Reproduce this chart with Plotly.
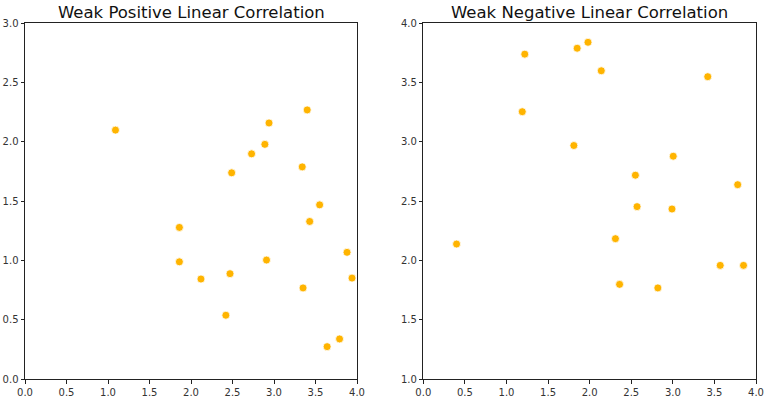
import plotly.graph_objects as go

pos_x = [1.09, 3.40, 2.94, 2.89, 2.73, 3.34, 2.49, 3.55, 3.43, 1.86,
         1.86, 3.88, 2.91, 2.47, 2.12, 3.94, 3.35, 2.42, 3.79, 3.64]
pos_y = [2.10, 2.27, 2.16, 1.98, 1.90, 1.79, 1.74, 1.47, 1.33, 1.28,
         0.99, 1.07, 1.005, 0.89, 0.845, 0.853, 0.77, 0.54, 0.34, 0.275]

neg_x = [1.22, 1.85, 1.98, 2.14, 3.42, 1.19, 1.81, 3.005, 2.55, 3.78,
         2.57, 2.99, 2.31, 0.40, 3.57, 3.85, 2.36, 2.82]
neg_y = [3.74, 3.79, 3.84, 3.60, 3.55, 3.255, 2.97, 2.88, 2.72, 2.64,
         2.455, 2.435, 2.185, 2.14, 1.96, 1.96, 1.80, 1.77]

titles = ["Weak Positive Linear Correlation", "Weak Negative Linear Correlation"]
ticks_x = [0, 0.5, 1.0, 1.5, 2.0, 2.5, 3.0, 3.5, 4.0]
ticks_y_left = [0, 0.5, 1.0, 1.5, 2.0, 2.5, 3.0]
ticks_y_right = [1.0, 1.5, 2.0, 2.5, 3.0, 3.5, 4.0]

color = "#FFB400"
fig = go.Figure()
fig.add_trace(go.Scatter(x=pos_x, y=pos_y, mode="markers", xaxis="x", yaxis="y",
                         marker=dict(color=color, size=8, line=dict(width=0.8, color="white"))))
fig.add_trace(go.Scatter(x=neg_x, y=neg_y, mode="markers", xaxis="x2", yaxis="y2",
                         marker=dict(color=color, size=8, line=dict(width=0.8, color="white"))))

ax_common = dict(showgrid=False, zeroline=False, showline=True, linecolor="#222", linewidth=1,
                 mirror=True, ticks="outside", ticklen=3.5, tickwidth=0.8, tickcolor="#222",
                 automargin=False,
                 tickfont=dict(family="DejaVu Sans", size=10, color="#333"))

W, H = 768, 399
ylo, yhi = 1 - 379.3 / H, 1 - 23.3 / H
fig.update_layout(
    width=W, height=H, margin=dict(l=0, r=0, t=0, b=0, autoexpand=False),
    plot_bgcolor="white", paper_bgcolor="white", showlegend=False,
    xaxis=dict(domain=[25 / W, 357 / W], range=[0, 4], tickvals=ticks_x,
               ticktext=[f"{v:.1f}" for v in ticks_x], anchor="y", **ax_common),
    yaxis=dict(domain=[ylo, yhi], range=[0, 3], tickvals=ticks_y_left,
               ticktext=[f"{v:.1f}" for v in ticks_y_left], anchor="x", **ax_common),
    xaxis2=dict(domain=[423.3 / W, 756 / W], range=[0, 4], tickvals=ticks_x,
                ticktext=[f"{v:.1f}" for v in ticks_x], anchor="y2", **ax_common),
    yaxis2=dict(domain=[ylo, yhi], range=[1, 4], tickvals=ticks_y_right,
                ticktext=[f"{v:.1f}" for v in ticks_y_right], anchor="x2", **ax_common),
    annotations=[
        dict(text=titles[0], xref="paper", yref="paper", x=(25 + 357) / 2 / W, y=1 - 13 / H,
             xanchor="center", yanchor="middle", showarrow=False,
             font=dict(family="DejaVu Sans", size=16.5, color="#111")),
        dict(text=titles[1], xref="paper", yref="paper", x=(423.3 + 756) / 2 / W, y=1 - 13 / H,
             xanchor="center", yanchor="middle", showarrow=False,
             font=dict(family="DejaVu Sans", size=16.5, color="#111")),
    ],
)
fig.write_html("out.html", config={"displayModeBar": False},
               post_script="document.body.style.margin='0';document.body.style.overflow='hidden';")
